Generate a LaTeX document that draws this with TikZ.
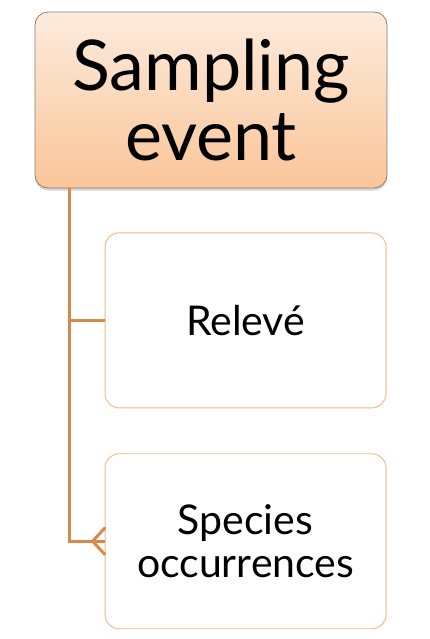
\documentclass[tikz,border=0pt]{standalone}
\usepackage{fontspec}
\setmainfont{Lato}
\usetikzlibrary{positioning,calc,shadows}
\definecolor{peachtop}{RGB}{253,235,221}
\definecolor{peachbot}{RGB}{250,197,152}
\definecolor{boxline}{RGB}{140,128,118}
\definecolor{subline}{RGB}{246,180,126}
\definecolor{linkbrown}{RGB}{214,137,74}

\begin{document}
\begin{tikzpicture}[x=1pt, y=-1pt,
  head/.style={draw=boxline, line width=0.8pt, rounded corners=13pt,
               top color=peachtop, bottom color=peachbot, align=center,
               minimum width=352pt, minimum height=176pt, inner sep=0pt,
               font=\fontsize{70}{74}\selectfont,
               drop shadow={shadow xshift=0pt, shadow yshift=-2.5pt, opacity=0.35}},
  sub/.style={draw=subline, line width=0.9pt, rounded corners=14pt, fill=white,
              align=center, minimum width=281pt, minimum height=175pt, inner sep=0pt,
              font=\fontsize{41}{43}\selectfont},
  link/.style={draw=linkbrown, line width=3pt}]
\useasboundingbox (0,0) rectangle (429,639);
\node[head] (event) at (211,100) {Sampling\\[-4pt]event};
\node[sub, anchor=north west] (releve) at ($(event.south west)+(70,44)$) {Relevé};
\node[sub, below=45pt of releve] (occ) {Species\\occurrences};
% trunk and branches
\coordinate (trunk) at ($(event.south west)+(35,0)$);
\draw[link] (trunk) |- (releve.west);
\draw[link] (trunk) |- (occ.west);
% crow's foot
\coordinate (foot) at ($(occ.west)+(-12,0)$);
\draw[link, line cap=round] ($(occ.west)+(0,-13)$) -- (foot) -- ($(occ.west)+(0,13)$);
\end{tikzpicture}
\end{document}
